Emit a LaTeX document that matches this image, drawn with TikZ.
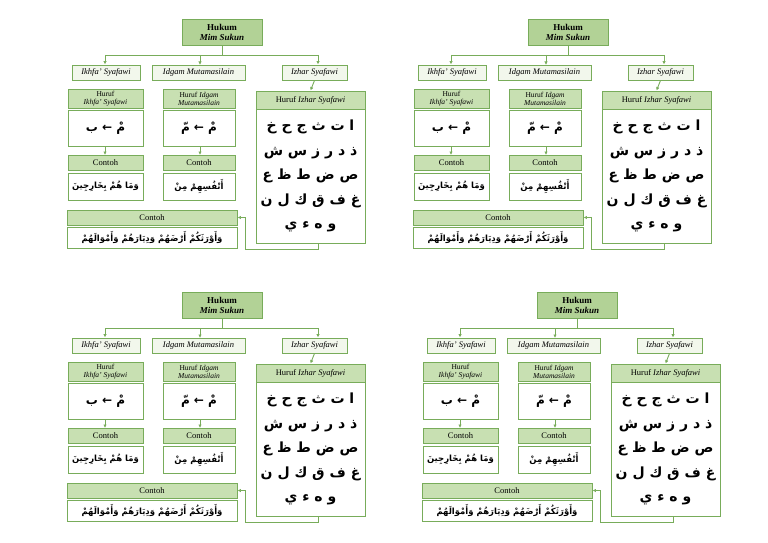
\documentclass[tikz,border=0pt]{standalone}
\usepackage{fontspec}
\setmainfont{Liberation Serif}
\newfontfamily\arabicfont[Script=Arabic]{DejaVu Sans}
\TeXXeTstate=1
\usetikzlibrary{arrows.meta}
\definecolor{gborder}{RGB}{120,172,90}
\definecolor{ghead}{RGB}{200,224,178}
\definecolor{ghuk}{RGB}{178,210,150}
\definecolor{glight}{RGB}{242,247,236}
\tikzset{
  bx/.style={draw=gborder,line width=0.9pt,inner sep=0pt,align=center,font=\fontsize{8.5}{9}\selectfont},
  hd/.style={bx,fill=ghead},
  lv/.style={bx,fill=glight},
  wb/.style={bx,fill=white},
  ln/.style={draw=gborder,line width=0.9pt},
  ar/.style={ln,-{Latex[length=3.5pt,width=3.5pt]}},
}
\newcommand{\ara}[1]{{\arabicfont\bfseries\beginR #1\endR}}
\newcommand{\onediagram}[3]{%
\begin{scope}[shift={(#2,#3)}]
\node[bx,fill=ghuk,minimum width=80,minimum height=26,font=\fontsize{9}{10}\selectfont] (#1huk) at (222,32.5) {\textbf{Hukum}\\\textbf{\textit{Mim Sukun}}};
\node[lv,minimum width=68,minimum height=15] (#1ik) at (106,72.5) {\textit{Ikhfa' Syafawi}};
\node[lv,minimum width=93,minimum height=15] (#1id) at (198.5,72.5) {\textit{Idgam Mutamasilain}};
\node[lv,minimum width=65,minimum height=15] (#1iz) at (314.5,72.5) {\textit{Izhar Syafawi}};
\node[hd,minimum width=75,minimum height=19,font=\fontsize{7.5}{8}\selectfont] (#1ikh) at (105.5,99) {Huruf\\\textit{Ikhfa' Syafawi}};
\node[wb,minimum width=75,minimum height=36] (#1ikl) at (105.5,128) {\arabicfont\bfseries\fontsize{12}{13}\selectfont ب ← مْ};
\node[hd,minimum width=72,minimum height=19,font=\fontsize{7.5}{8}\selectfont] (#1idh) at (199,99) {Huruf \textit{Idgam}\\\textit{Mutamasilain}};
\node[wb,minimum width=72,minimum height=36] (#1idl) at (199,128) {\arabicfont\bfseries\fontsize{12}{13}\selectfont مّ ← مْ};
\node[hd,minimum width=109,minimum height=18] (#1izh) at (310.5,100) {Huruf \textit{Izhar Syafawi}};
\node[wb,minimum width=109,minimum height=134,font=\arabicfont\bfseries\fontsize{14}{24.5}\selectfont] (#1izl) at (310.5,176) {\beginR ا ت ث ج ح خ\endR\\\beginR ذ د ر ز س ش\endR\\\beginR ص ض ط ظ ع\endR\\\beginR غ ف ق ك ل ن\endR\\\beginR و ه ء ي\endR};
\node[hd,minimum width=75,minimum height=15] (#1ikc) at (105.5,162.5) {Contoh};
\node[wb,minimum width=75,minimum height=27,font=\fontsize{8.5}{10}\selectfont] (#1ikx) at (105.5,186.5) {\ara{وَمَا هُمْ بِخَارِجِينَ}};
\node[hd,minimum width=72,minimum height=15] (#1idc) at (199,162.5) {Contoh};
\node[wb,minimum width=72,minimum height=27,font=\fontsize{8.5}{10}\selectfont] (#1idx) at (199,186.5) {\ara{أَنْفُسِهِمْ مِنْ}};
\node[hd,minimum width=170,minimum height=15] (#1bc) at (152,217.5) {Contoh};
\node[wb,minimum width=170,minimum height=21,font=\fontsize{8.5}{10}\selectfont] (#1bx) at (152,237.5) {\ara{وَأَوْرَثَكُمْ أَرْضَهُمْ وَدِيَارَهُمْ وَأَمْوَالَهُمْ}};
\coordinate (#1jl) at (105,55);
\coordinate (#1jr) at (318,55);
\draw[ln] (#1huk.south) -- (#1huk.south |- #1jl);
\draw[ln] (#1jl) -- (#1jr);
\draw[ar] (#1jl) -- (#1jl |- #1ik.north);
\draw[ar] (200,55) -- (200,65);
\draw[ar] (#1jr) -- (#1jr |- #1iz.north);
\draw[ar] (#1iz.south) -- (#1izh.north);
\draw[ar] (105,146) -- (105,155);
\draw[ar] (200,146) -- (200,155);
\draw[ar] (318,243) -- (318,249) -- (245,249) -- (245,217.5) -- (#1bc.east);
\end{scope}}
\begin{document}
\begin{tikzpicture}[x=1pt,y=-1pt]
\useasboundingbox (0,0) rectangle (768,543);
\onediagram{a}{0}{0}
\onediagram{b}{346}{0}
\onediagram{c}{0}{273}
\onediagram{d}{355}{273}
\end{tikzpicture}
\end{document}
